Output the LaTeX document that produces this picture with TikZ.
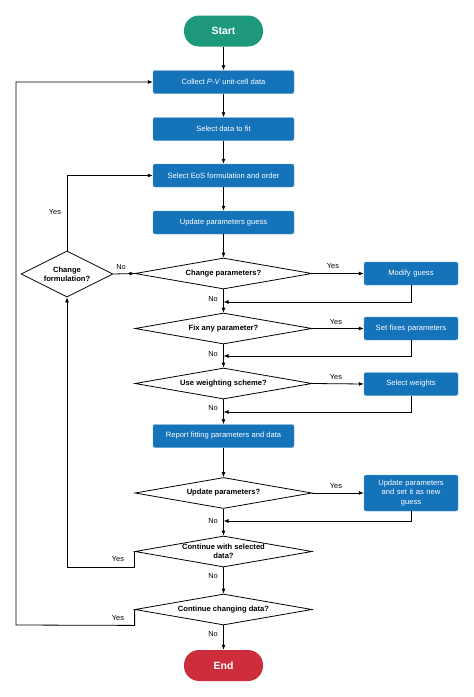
\documentclass[tikz,border=0pt]{standalone}
\usepackage{fontspec}
\setmainfont{Liberation Sans}
\usepackage{xcolor}
\usepackage{tikz}
\usetikzlibrary{arrows.meta,shapes.geometric}

\definecolor{startgreen}{RGB}{30,153,123}
\definecolor{endred}{RGB}{206,45,60}
\definecolor{stepblue}{RGB}{21,115,186}

\begin{document}
\begin{tikzpicture}[
    x=1pt, y=-1pt,
    terminal/.style={rounded corners=15pt, align=center, minimum height=31pt, minimum width=79pt, text=white, font=\fontsize{10.5}{12}\selectfont\bfseries},
    box/.style={draw=stepblue!70!white, fill=stepblue, rounded corners=2pt, align=center, minimum height=23pt, minimum width=141pt, text=white, font=\fontsize{7.6}{9.3}\selectfont},
    sidebox/.style={box, minimum width=94pt, text width=84pt},
    decision/.style={diamond, draw, line width=0.8pt, inner sep=0pt, align=center, minimum width=177pt, minimum height=31pt, aspect=5.7, font=\fontsize{7.6}{9}\selectfont\bfseries},
    lbl/.style={inner sep=1pt, font=\fontsize{7.4}{8}\selectfont},
    arrow/.style={-{Latex[length=5pt,width=4pt]}, line width=0.8pt}
  ]
    \useasboundingbox (0,0) rectangle (474,697);

    \node[terminal, fill=startgreen] (start) at (223.5,31) {Start};
    \node[box] (collect) at (223.5,82) {Collect \textit{P-V} unit-cell data};
    \node[box] (select) at (223.5,129) {Select data to fit};
    \node[box] (eos) at (223.5,175.5) {Select EoS formulation and order};
    \node[box] (guess) at (223.5,222.5) {Update parameters guess};
    \node[decision] (chpar) at (223.5,273.5) {Change parameters?};
    \node[decision, minimum width=92pt, minimum height=46pt, aspect=2] (chform) at (67,274) {Change\\formulation?};
    \node[sidebox] (modify) at (411,273.5) {Modify guess};
    \node[decision] (fix) at (223.5,328.5) {Fix any parameter?};
    \node[sidebox] (setfix) at (411,328.5) {Set fixes parameters};
    \node[decision] (weight) at (223.5,383.5) {Use weighting scheme?};
    \node[sidebox] (selw) at (411,384) {Select weights};
    \node[box] (report) at (223.5,436) {Report fitting parameters and data};
    \node[decision] (updpar) at (223.5,493) {Update parameters?};
    \node[sidebox, minimum height=36pt] (newguess) at (411,493) {Update parameters\\and set it as new\\guess};
    \node[decision] (contsel) at (223.5,551.5) {Continue with selected\\data?};
    \node[decision] (contchg) at (223.5,609.5) {Continue changing data?};
    \node[terminal, fill=endred] (end) at (223.5,665.5) {End};

    \coordinate (join1) at (223.5,302);
    \coordinate (join2) at (223.5,356);
    \coordinate (join3) at (223.5,412);
    \coordinate (join4) at (223.5,521);
    \coordinate (rail) at (16,625);

    % main column
    \draw[arrow] (start) -- (collect);
    \draw[arrow] (collect) -- (select);
    \draw[arrow] (select) -- (eos);
    \draw[arrow] (eos) -- (guess);
    \draw[arrow] (guess) -- (chpar);
    \draw[arrow] (chpar) -- (fix);
    \draw[arrow] (fix) -- (weight);
    \draw[arrow] (weight) -- (report);
    \draw[arrow] (report) -- (updpar);
    \draw[arrow] (updpar) -- (contsel);
    \draw[arrow] (contsel) -- (contchg);
    \draw[arrow] (contchg) -- (end);

    % side branches
    \draw[arrow] (chpar.east) -- (modify.west);
    \draw[arrow] (fix.east) -- (setfix.west);
    \draw[arrow] (weight.east) -- (selw.west);
    \draw[arrow] (updpar.east) -- (newguess.west);
    \draw[arrow] (modify.south) |- (join1);
    \draw[arrow] (setfix.south) |- (join2);
    \draw[arrow] (selw.south) |- (join3);
    \draw[arrow] (newguess.south) |- (join4);

    % loops back
    \draw[arrow] (chform.east) -- (chpar.west);
    \draw[arrow] (chform.north) |- (eos.west);
    \draw[arrow] (contsel.west) -- (contsel.west |- contsel.south) -| (chform.south);
    \draw[arrow] (contchg.west) -- (contchg.west |- contchg.south) -- (rail) |- (collect.west);

    % labels
    \node[lbl] (yes1) at (55,212) {Yes};
    \node[lbl] (no1) at (121,267) {No};
    \node[lbl] (yes2) at (333,266) {Yes};
    \node[lbl] (yes3) at (336,322) {Yes};
    \node[lbl] (yes4) at (336,377) {Yes};
    \node[lbl] (yes5) at (336,486) {Yes};
    \node[lbl] (no2) at (213,299) {No};
    \node[lbl] (no3) at (213,354) {No};
    \node[lbl] (no4) at (213,408) {No};
    \node[lbl] (no5) at (213,521) {No};
    \node[lbl] (no6) at (213,576) {No};
    \node[lbl] (no7) at (213,634) {No};
    \node[lbl] (yes6) at (118,559) {Yes};
    \node[lbl] (yes7) at (118,618) {Yes};
  \end{tikzpicture}
\end{document}
